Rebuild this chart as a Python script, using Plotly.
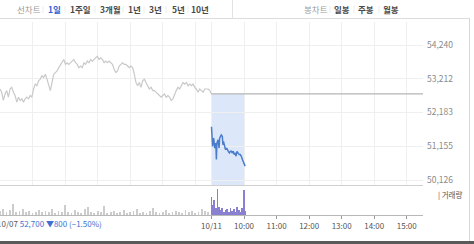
import plotly.graph_objects as go

W, H = 474, 244

# ---------------- data ----------------
# previous session (10/07), price sampled every ~3 minutes from 09:00 to 15:30
prev_price = [52900, 52800, 52550, 52750, 52850, 52650, 52900, 52950, 52800, 52700,
              52500, 52650, 52550, 52600, 52500, 52600, 52650, 52600, 52700, 52650,
              52900, 53050, 53000, 53150, 53200, 53300, 53250, 53350, 53200, 53000,
              52850, 53100, 53350, 53400, 53450, 53550, 53650, 53750, 53800, 53650,
              53700, 53650, 53700, 53750, 53800, 53700, 53650, 53550, 53600, 53550,
              53700, 53650, 53750, 53700, 53800, 53750, 53800, 53850, 53900, 53800,
              53850, 53800, 53700, 53750, 53700, 53750, 53700, 53650, 53500, 53400,
              53450, 53600, 53650, 53700, 53650, 53650, 53600, 53550, 53600, 53550,
              53350, 53100, 53000, 53100, 52950, 53150, 53200, 53100, 53050, 52900,
              52950, 52850, 52850, 52800, 52750, 52700, 52650, 52700, 52750, 52650,
              52700, 52650, 52550, 52600, 52750, 52850, 52950, 52900, 53000, 53100,
              53050, 53100, 53000, 53050, 53000, 53050, 52950, 52900, 52800, 52900,
              52850, 52800, 52900, 52900, 52900, 52850, 52750]
prev_step_min = 390 / (len(prev_price) - 1)
prev_min = [i * prev_step_min for i in range(len(prev_price))]

prev_close = 52750

# today (10/11), minutes after 09:00
today_min = [0, 1, 2, 3, 4, 6, 8, 9, 10, 12, 14, 15, 17, 18, 20, 21, 22, 24, 26, 28,
             30, 31, 33, 35, 37, 38, 40, 42, 44, 45, 47, 49, 51, 53, 55, 57, 59, 60, 62]
today_price = [51750, 51500, 51150, 51300, 51400, 51100, 51250, 50750, 51250, 51350,
               51100, 51400, 51500, 51500, 51450, 51200, 51300, 51200, 51050, 51100,
               51000, 51000, 50950, 51000, 51000, 50950, 51000, 50900, 50950, 50850,
               51000, 50950, 50900, 50900, 50850, 50750, 50650, 50600, 50550]

# volume (thousand shares)
vol_prev_min = list(range(0, 390, 6))
vol_prev = [4, 6, 3, 5, 11, 3, 4, 6, 3, 4, 2, 3, 5, 3, 4, 3, 6, 2, 4, 3, 10, 3, 2, 5, 3,
            2, 6, 8, 3, 2, 4, 3, 9, 2, 3, 4, 2, 3, 5, 2, 3, 4, 6, 2, 3, 2, 4, 7, 3, 2,
            3, 5, 2, 3, 4, 3, 2, 5, 3, 4, 2, 3, 6, 4, 3]
vol_today_min = [0, 3, 5, 8, 11, 14, 17, 20, 23, 26, 29, 32, 35, 38, 41, 44, 47, 50,
                 53, 56, 58, 60, 62]
vol_today = [18, 10, 15, 7, 26, 8, 5, 7, 3, 5, 6, 3, 7, 4, 6, 3, 8, 5, 3, 7, 5, 25, 4]

y_ticks = [50126, 51155, 52183, 53212, 54240]
x_tick_labels = ["10/11", "10:00", "11:00", "12:00", "13:00", "14:00", "15:00"]
x_tick_vals = [390, 450, 510, 570, 630, 690, 750]
grid_x = [60, 120, 180, 240, 300, 360] + x_tick_vals

tabs_left = ["선차트", "1일", "1주일", "3개월", "1년", "3년", "5년", "10년"]
tabs_right = ["봉차트", "일봉", "주봉", "월봉"]

# ---------------- figure ----------------
FONT = "Noto Sans CJK KR"
px = lambda x: x / W
py = lambda y: 1 - y / H
XR = 423 / W

fig = go.Figure()

fig.add_trace(go.Scatter(x=prev_min, y=prev_price, mode="lines",
                         line=dict(color="#c9c9c9", width=1.2), xaxis="x", yaxis="y",
                         hoverinfo="skip"))
fig.add_trace(go.Scatter(x=[390, 780], y=[prev_close, prev_close], mode="lines",
                         line=dict(color="#b5b5b5", width=1.3), xaxis="x", yaxis="y",
                         hoverinfo="skip"))
fig.add_trace(go.Scatter(x=[390 + m for m in today_min], y=today_price, mode="lines",
                         line=dict(color="#4a7cc9", width=1.5), xaxis="x", yaxis="y",
                         hoverinfo="skip"))

fig.add_trace(go.Bar(x=vol_prev_min, y=vol_prev, width=1.5,
                     marker=dict(color="#cccccc", line=dict(width=0)),
                     xaxis="x2", yaxis="y2"))
fig.add_trace(go.Bar(x=[390 + m for m in vol_today_min], y=vol_today, width=1.6,
                     marker=dict(color="#8a80d2", line=dict(width=0)),
                     xaxis="x2", yaxis="y2"))

shapes = []
shapes.append(dict(type="rect", xref="x", yref="y", x0=390, x1=450,
                   y0=49974, y1=prev_close, fillcolor="rgba(214,228,248,0.85)",
                   line=dict(width=0), layer="below"))
shapes.append(dict(type="line", xref="paper", yref="paper", x0=0, x1=px(470),
                   y0=py(18.5), y1=py(18.5), line=dict(color="#dcdcdc", width=1)))
shapes.append(dict(type="line", xref="paper", yref="paper", x0=px(232.5), x1=px(232.5),
                   y0=py(0), y1=py(18.5), line=dict(color="#e2e2e2", width=1)))
shapes.append(dict(type="line", xref="paper", yref="paper", x0=px(469.5), x1=px(469.5),
                   y0=py(18.5), y1=py(241), line=dict(color="#d8d8d8", width=1)))
shapes.append(dict(type="rect", xref="paper", yref="paper", x0=0, x1=1,
                   y0=0, y1=py(241), fillcolor="#5a5a5a", line=dict(width=0)))
for sx in [43, 65, 95, 123, 144, 166, 188, 330, 354, 379]:
    shapes.append(dict(type="line", xref="paper", yref="paper", x0=px(sx), x1=px(sx),
                       y0=py(6), y1=py(13), line=dict(color="#ececec", width=1)))

annotations = []
tab_left_x = [29, 54, 80, 110, 134, 155, 178, 200]
for t, x in zip(tabs_left, tab_left_x):
    if t == "1일":
        col, txt = "#2b5fd4", "<b>" + t + "</b>"
    elif t == "선차트":
        col, txt = "#9a9a9a", t
    else:
        col, txt = "#4a4a4a", "<b>" + t + "</b>"
    annotations.append(dict(text=txt, x=px(x), y=py(9.5), xref="paper", yref="paper",
                            showarrow=False, xanchor="center", yanchor="middle",
                            font=dict(family=FONT, size=8.5, color=col)))
tab_right_x = [316, 342, 366, 391]
for t, x in zip(tabs_right, tab_right_x):
    if t == "봉차트":
        col, txt = "#9a9a9a", t
    else:
        col, txt = "#4a4a4a", "<b>" + t + "</b>"
    annotations.append(dict(text=txt, x=px(x), y=py(9.5), xref="paper", yref="paper",
                            showarrow=False, xanchor="center", yanchor="middle",
                            font=dict(family=FONT, size=8.5, color=col)))

annotations.append(dict(
    text="<span style='color:#555'>10/07</span> 52,700 ▼800 (−1.50%)",
    x=0, y=py(223), xref="paper", yref="paper", xshift=-5, showarrow=False,
    xanchor="left", yanchor="middle", font=dict(family=FONT, size=8, color="#3f6fd0")))
annotations.append(dict(text="| 거래량", x=px(436), y=py(194.5), xref="paper",
                        yref="paper", showarrow=False, xanchor="left", yanchor="middle",
                        font=dict(family=FONT, size=7.5, color="#555")))

fig.update_layout(
    width=W, height=H, margin=dict(l=0, r=0, t=0, b=0),
    paper_bgcolor="white", plot_bgcolor="white", showlegend=False,
    bargap=0, font=dict(family=FONT),
    shapes=shapes, annotations=annotations,
    xaxis=dict(domain=[0, XR], range=[0, 780], tickvals=grid_x, showticklabels=False,
               showgrid=True, gridcolor="#efefef", gridwidth=1, zeroline=False,
               showline=True, linecolor="#d0d0d0", linewidth=1, ticks="",
               anchor="y", fixedrange=True),
    yaxis=dict(domain=[59 / H, 222 / H], range=[49974, 54941], side="right",
               tickvals=y_ticks, ticktext=[f"{v:,}" for v in y_ticks],
               showgrid=True, gridcolor="#efefef", gridwidth=1, zeroline=False,
               ticks="", ticklabelstandoff=3,
               tickfont=dict(family=FONT, size=8.5, color="#8a8a8a"), anchor="x"),
    xaxis2=dict(domain=[0, XR], range=[0, 780], tickvals=x_tick_vals,
                ticktext=x_tick_labels, ticks="outside", ticklen=3, tickcolor="#999",
                showline=True, linecolor="#b8b8b8", linewidth=1, showgrid=False,
                zeroline=False, tickfont=dict(family=FONT, size=8, color="#555"),
                anchor="y2"),
    yaxis2=dict(domain=[29 / H, 57 / H], range=[0, 28], showticklabels=False,
                showgrid=False, zeroline=False, showline=False, ticks="", anchor="x2"),
)

fig.write_html("out.html")
